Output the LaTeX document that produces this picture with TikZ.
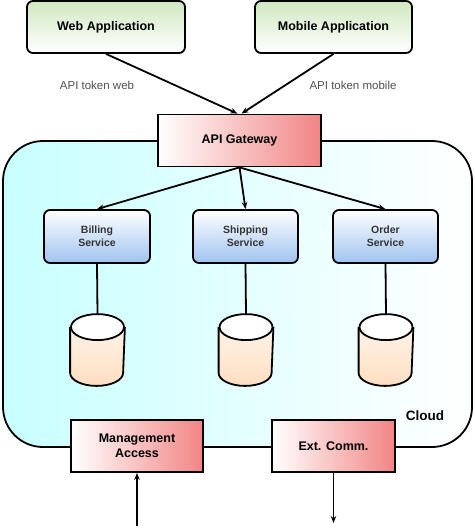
\documentclass[tikz,border=0pt]{standalone}
\usepackage{fontspec}
\setmainfont{Liberation Sans}
\usetikzlibrary{arrows.meta}

\definecolor{appgreen}{RGB}{208,232,192}
\definecolor{svcblue}{RGB}{160,195,240}
\definecolor{gatered}{RGB}{242,132,132}
\definecolor{cloudcyan}{RGB}{200,255,255}
\definecolor{dbpeach}{RGB}{255,222,192}
\definecolor{lblgray}{RGB}{80,80,80}

\begin{document}
\begin{tikzpicture}[x = 1pt, y = -1pt,
  line width = 1.8pt,
  app/.style = {draw, rounded corners = 6pt, top color = appgreen, bottom color = white,
    minimum width = 158pt, minimum height = 52pt, font = \fontsize{12.5}{14}\selectfont\bfseries},
  svc/.style = {draw, rounded corners = 6pt, top color = white, bottom color = svcblue,
    minimum width = 105pt, minimum height = 53pt, align = center, text = black!80,
    font = \fontsize{10.5}{13}\selectfont\bfseries},
  gate/.style = {draw, left color = white, right color = gatered, minimum height = 52pt,
    align = center, font = \fontsize{12.5}{15}\selectfont\bfseries},
  db/.style = {inner sep = 0pt, minimum width = 53pt, minimum height = 70pt},
  lbl/.style = {text = lblgray, font = \fontsize{11.5}{14}\selectfont},
  arr/.style = {-{Stealth[length = 7pt, width = 5.5pt]}}]
\useasboundingbox (0, 0) rectangle (474, 530);

% cloud
\draw[rounded corners = 40pt, left color = cloudcyan, right color = white] (3, 141) rectangle (472, 447);
\node (cloud) at (425, 416) [font = \fontsize{13.5}{16}\selectfont\bfseries] {Cloud};

% clients
\node (web) at (106, 27) [app] {Web Application};
\node (mobile) at (333.5, 27) [app, minimum width = 157pt] {Mobile Application};
\node (tokweb) at (97, 85) [lbl] {API token web};
\node (tokmob) at (353, 85) [lbl] {API token mobile};

% gateway
\node (gw) at (239.5, 140.5) [gate, minimum width = 163pt] {API Gateway};

% services and databases
\node (billing) at (97, 236.5) [svc, minimum width = 106pt] {Billing\\Service};
\node (shipping) at (245.5, 236.5) [svc] {Shipping\\Service};
\node (order) at (385.5, 236.5) [svc] {Order\\Service};
\node (dbbill) at (97.5, 350) [db] {};
\node (dbship) at (246, 350) [db] {};
\node (dbord) at (386, 350) [db] {};
\foreach \d in {dbbill, dbship, dbord} {
  \draw[top color = dbpeach!35, bottom color = dbpeach] ([yshift = -13pt]\d.north west)
    -- ([yshift = 13pt]\d.south west) arc[start angle = 180, end angle = 360, x radius = 26.5pt, y radius = 13pt]
    -- ([yshift = -13pt]\d.north east);
  \draw[fill = white] ([yshift = -13pt]\d.north) ellipse [x radius = 26.5pt, y radius = 13pt];
}

% edge boxes
\node (mgmt) at (137, 446) [gate, minimum width = 132pt] {Management\\Access};
\node (ext) at (333.5, 446) [gate, minimum width = 123pt] {Ext. Comm.};
\coordinate (mgmtin) at (137, 526);
\coordinate (extout) at (333.5, 523);

\draw[arr] (web.south) -- ([xshift = -2pt]gw.north);
\draw[arr] (mobile.south) -- ([xshift = 2pt]gw.north);
\draw[arr] (gw.south) -- (billing.north);
\draw[arr] (gw.south) -- (shipping.north);
\draw[arr] (gw.south) -- (order.north);
\draw (billing.south) -- (dbbill.north);
\draw (shipping.south) -- (dbship.north);
\draw (order.south) -- (dbord.north);
\draw[arr] (mgmtin) -- (mgmt.south);
\draw[arr] (ext.south) -- (extout);
\end{tikzpicture}
\end{document}
